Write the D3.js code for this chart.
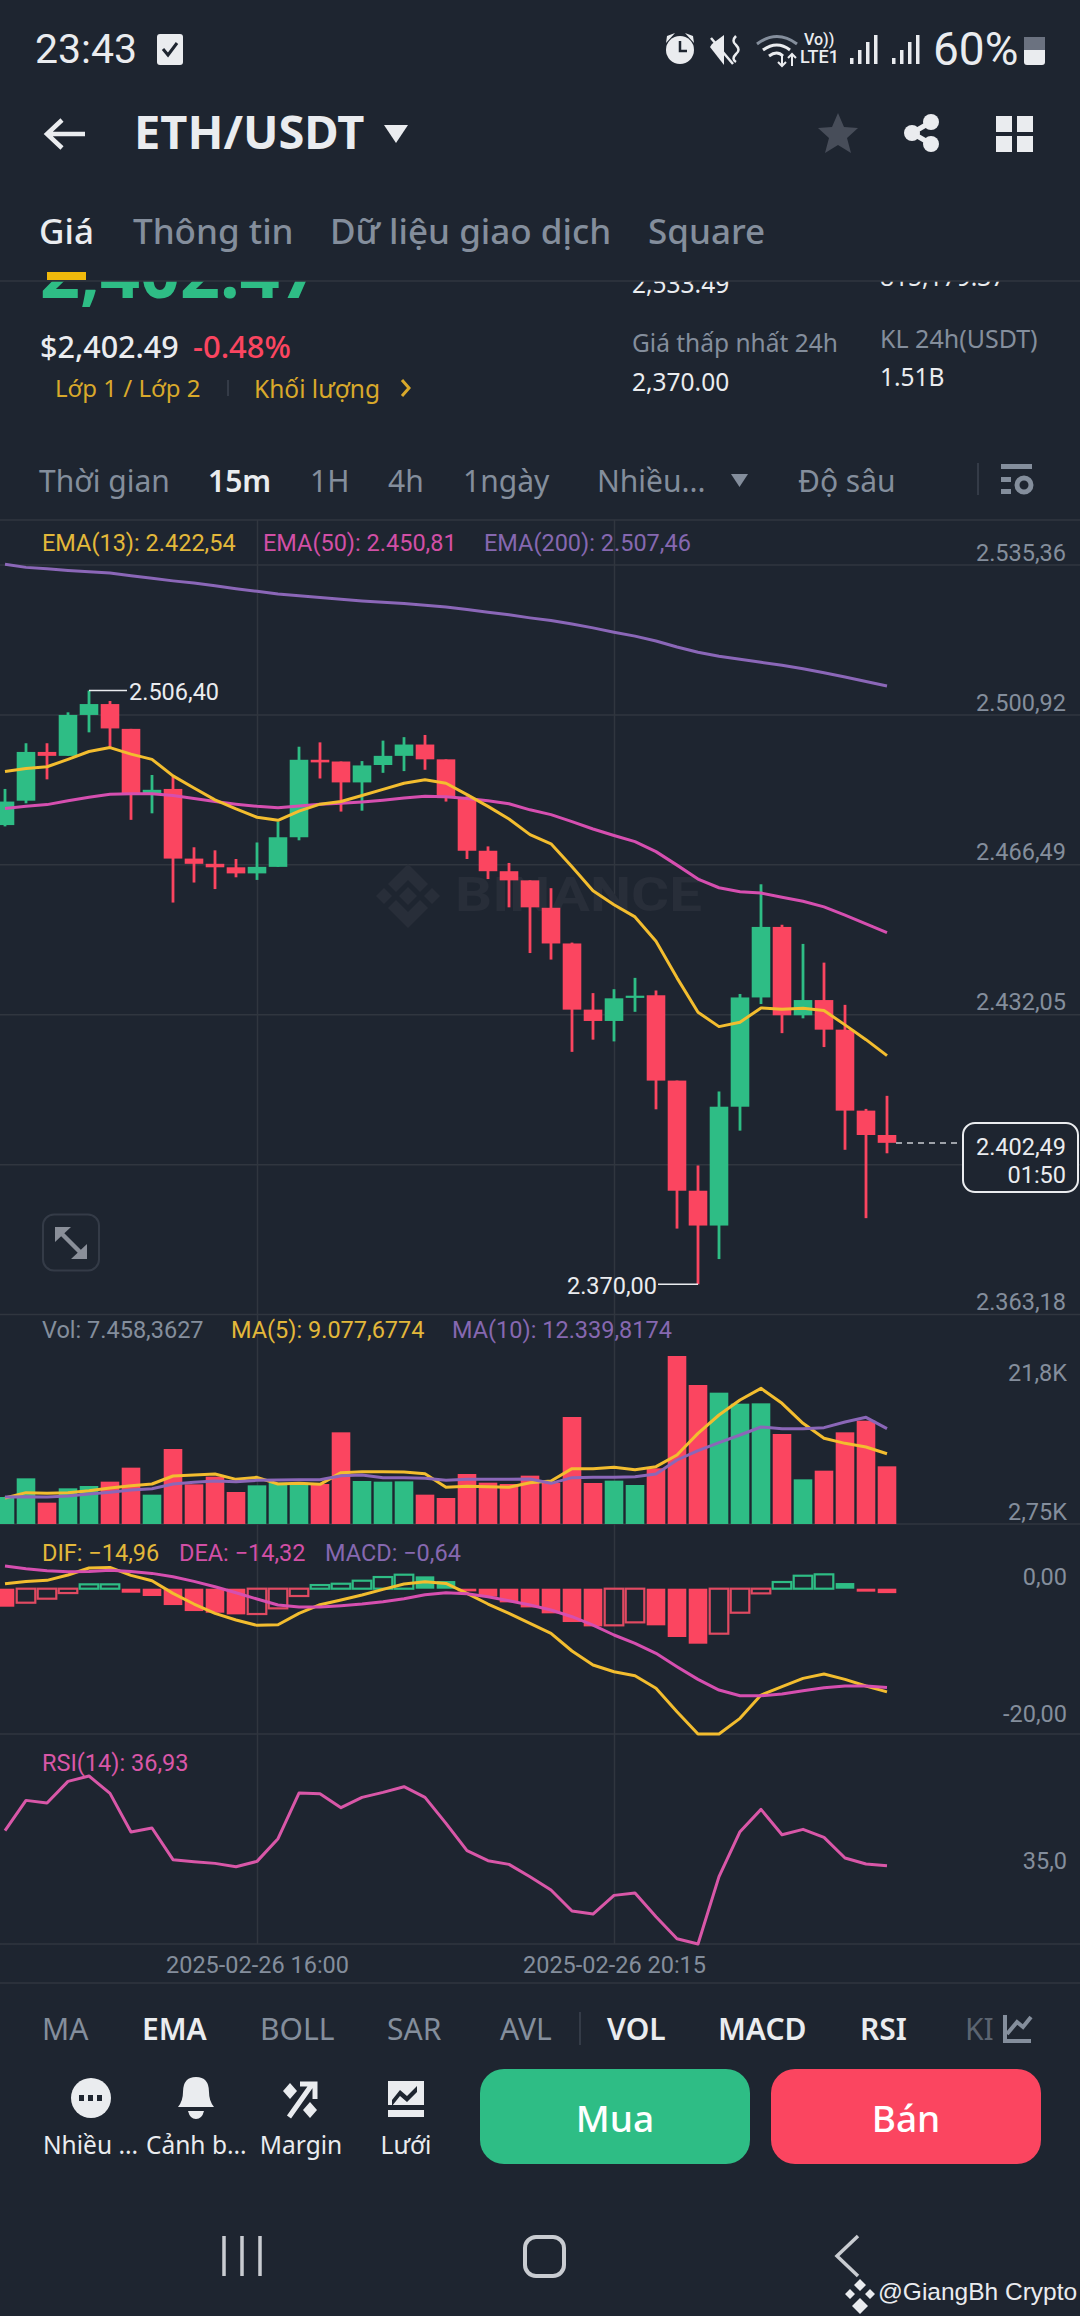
<!DOCTYPE html>
<html>
<head>
<meta charset="utf-8">
<script src="https://cdn.jsdelivr.net/npm/d3@7"></script>
<style>
  html, body { margin: 0; padding: 0; background: #1e2530; }
  svg { display: block; }
  text { font-family: "Noto Sans", sans-serif; dominant-baseline: middle; }
  .num text, text.num { font-family: Roboto, sans-serif; }
</style>
</head>
<body>
<div id="chart"></div>
<script>
// candles
var opens = [2475.5,2481.1,2492.3,2491.4,2500.8,2503.3,2497.6,2482.7,2483.8,2467.8,2466.6,2465.8,2464.4,2465.9,2472.7,2490.5,2490.1,2485.3,2489.3,2491.4,2494.0,2490.6,2481.7,2469.6,2464.9,2462.8,2456.5,2448.3,2433.1,2430.5,2435.8,2436.4,2416.8,2391.5,2383.5,2410.8,2435.9,2452.1,2431.8,2435.3,2428.5,2409.9,2404.3]
var closes = [2480.9,2492.3,2491.4,2500.8,2503.3,2497.7,2482.8,2483.6,2467.8,2466.6,2465.8,2464.4,2465.9,2472.7,2490.5,2489.9,2485.3,2489.2,2491.4,2494.0,2490.6,2481.7,2469.6,2464.9,2462.8,2456.6,2448.3,2433.1,2430.5,2435.7,2436.3,2416.8,2391.5,2383.5,2410.8,2435.9,2452.1,2431.8,2435.3,2428.5,2409.9,2404.3,2402.5]
var highs = [2483.8,2494.3,2494.3,2501.4,2506.4,2504.0,2497.6,2487.0,2486.7,2470.4,2469.7,2467.7,2471.5,2476.3,2493.5,2494.5,2490.1,2490.2,2494.9,2495.7,2496.2,2490.6,2482.1,2470.6,2466.8,2462.8,2461.0,2448.5,2436.9,2437.8,2440.4,2437.5,2416.8,2397.3,2414.3,2436.7,2461.9,2452.6,2448.2,2443.9,2434.2,2410.3,2413.3]
var lows = [2475.2,2480.5,2486.0,2491.4,2496.8,2493.3,2476.7,2478.2,2457.7,2462.3,2460.8,2463.5,2462.9,2465.9,2472.0,2486.2,2478.6,2478.8,2487.5,2487.9,2488.2,2480.9,2467.7,2463.1,2456.6,2446.1,2444.6,2423.4,2426.2,2425.8,2432.6,2410.2,2382.8,2370.0,2375.8,2405.3,2434.4,2427.7,2431.1,2424.5,2400.9,2385.2,2400.1]

var ema13 = [2487.8,2488.5,2488.9,2490.6,2492.4,2493.3,2491.8,2490.6,2486.8,2484.0,2481.3,2479.2,2477.3,2476.6,2478.7,2480.3,2480.9,2482.3,2483.7,2485.1,2485.9,2485.1,2482.5,2479.8,2476.9,2473.3,2471.2,2465.9,2460.4,2457.2,2454.4,2448.8,2440.4,2432.5,2429.2,2430.2,2433.5,2433.2,2433.4,2432.9,2429.6,2426.2,2422.54]
var ema50 = [2479.3,2479.8,2480.2,2481.1,2481.9,2482.6,2482.7,2482.7,2482.3,2481.6,2480.9,2480.3,2479.8,2479.5,2479.9,2480.3,2480.5,2480.8,2481.2,2481.7,2482.1,2482.0,2481.6,2481.1,2480.4,2479.0,2477.9,2476.3,2474.6,2473.1,2471.7,2469.4,2466.3,2463.1,2461.1,2460.2,2459.9,2458.9,2458.0,2456.7,2454.8,2452.8,2450.81]
var ema200 = [2535.4,2534.7,2534.4,2534.0,2533.7,2533.4,2532.8,2532.2,2531.6,2531.1,2530.5,2529.8,2529.2,2528.6,2528.2,2527.8,2527.4,2527.0,2526.7,2526.4,2526.0,2525.6,2525.0,2524.4,2523.8,2523.1,2522.5,2521.7,2520.8,2519.8,2518.9,2517.8,2516.4,2515.2,2514.3,2513.6,2512.9,2512.2,2511.4,2510.5,2509.5,2508.5,2507.46]

var volumes = [3490,5905,2758,4612,4913,5474,7284,3793,9698,5129,6120,4138,5000,5344,5344,5172,11853,5560,5474,5517,3793,3362,6465,5344,5172,6250,5301,13835,5301,5603,5043,7198,21722,17973,16981,15559,15602,11637,5775,6896,11853,13361,7458]
var volMa5 = [3362,4051,3965,4051,4310,4655,4957,5172,6206,6336,6465,5775,6034,5172,5258,5129,6637,6767,6767,6724,6508,4741,4870,4827,4741,5344,5560,7155,7155,7327,7025,7413,8922,11723,14094,16033,17542,15602,13016,11077,10430,9956,9078]
var volMa10 = [3491,3534,3491,3620,3879,4095,4396,4569,5172,5388,5560,5474,5646,5689,5732,5732,6250,6336,5991,5991,5905,5646,5775,5775,5775,5819,5258,5991,6034,6034,6120,6465,8275,9482,10516,11508,12542,12327,12327,12456,13189,13792,12340]

var macdHist = [-2.61,-2.03,-1.45,-0.63,0.63,0.63,-0.58,-1.06,-2.37,-3.24,-3.48,-3.72,-3.67,-2.85,-1.06,0.53,0.72,1.16,1.69,2.03,1.79,1.11,-0.39,-1.16,-1.98,-2.71,-3.57,-4.83,-5.46,-5.31,-4.88,-5.31,-7.0,-7.97,-6.52,-3.48,-0.68,0.97,1.88,2.08,0.82,-0.43,-0.64]
var dif = [0.72,1.06,1.21,1.98,3.0,3.09,1.93,1.16,-0.68,-2.22,-3.57,-4.54,-5.31,-5.22,-3.57,-2.32,-1.64,-0.92,-0.1,0.68,1.01,0.77,-0.68,-2.22,-3.57,-5.02,-6.47,-9.03,-11.06,-12.03,-12.61,-14.44,-17.83,-21.06,-21.06,-18.79,-15.41,-14.2,-13.0,-12.37,-13.14,-14.11,-14.96]
var dea = [3.29,2.9,2.61,2.46,2.51,2.66,2.51,2.22,1.74,1.06,0.29,-0.58,-1.5,-2.37,-2.66,-2.66,-2.46,-2.22,-1.88,-1.45,-0.87,-0.58,-0.72,-1.16,-1.74,-2.37,-3.09,-4.06,-5.27,-6.71,-7.92,-9.37,-11.3,-13.14,-14.69,-15.51,-15.51,-15.27,-14.78,-14.35,-14.11,-14.11,-14.32]

var rsi = [46.14,54.12,53.42,59.12,60.53,55.97,45.79,46.84,38.51,37.98,37.54,36.67,38.07,44.04,56.05,55.88,52.19,54.91,56.23,57.72,54.91,48.07,40.88,38.25,37.28,34.04,30.53,25.0,24.21,29.12,29.74,23.51,17.72,16.32,34.04,45.88,51.75,45.09,46.49,44.39,38.95,37.37,36.93]

var priceTicks = [2535.36,2500.92,2466.49,2432.05,2397.61,2363.18]
var hiddenTick = 2397.61 // sits behind the last price tag
var timeTickIdx = [12,29]
var timeLabels = ["2025-02-26 16:00","2025-02-26 20:15"]
var lastPrice = 2402.49

var W = 1080, H = 2316
var bg = "#1e2530", grid = "#30363f", grey = "#848e9c"
var green = "#2ebd85", red = "#fb4560"
var yellow = "#f3bd2f", magenta = "#d64fb0", purple = "#8b67b8"
var candleW = 18.6

var vi = d3.formatLocale({decimal: ",", thousands: ".", grouping: [3], currency: ["", ""]})
var fmt2 = vi.format(",.2f")

var svg = d3.select("#chart").append("svg")
  .attr("width", W)
  .attr("height", H)
  .attr("viewBox", "0 0 " + W + " " + H)

var x = d3.scaleLinear().domain([0, 42]).range([5, 887])
var y = d3.scaleLinear().domain([2363.18, 2535.36]).range([1314, 564.5])
var yVol = d3.scaleLinear().domain([0, 21800]).range([1524, 1355.4])
var yMacd = d3.scaleLinear().domain([0, -21.06]).range([1588.7, 1734])
var yRsi = d3.scaleLinear().domain([16.4, 60.8]).range([1943.7, 1775])

function hline(py, x1, x2, col) {
  svg.append("line").attr("x1", x1).attr("x2", x2).attr("y1", py).attr("y2", py)
    .attr("stroke", col || grid).attr("stroke-width", 1.5)
}
// text sits about 2px low compared with middle baseline
function label(px, py, txt, col, size, opts) {
  opts = opts || {}
  return svg.append("text")
    .attr("class", opts.num ? "num" : null)
    .attr("x", px).attr("y", py + 2)
    .attr("fill", col).attr("font-size", size)
    .attr("font-weight", opts.w || 400)
    .attr("text-anchor", opts.a || "start")
    .text(txt)
}

// ---- panes: grid first
hline(520, 0, W)
hline(1524, 0, W)
hline(1734, 0, W)
hline(1944, 0, W)
hline(1983, 0, W)

var timeAxis = d3.axisBottom(x)
  .tickValues(timeTickIdx)
  .tickSize(-(1944 - 520))
  .tickFormat(function(d, i) { return timeLabels[i] })
var gt = svg.append("g").attr("class", "num").attr("transform", "translate(0,1944)").call(timeAxis)
gt.select(".domain").remove()
gt.selectAll("line").attr("stroke", grid).attr("stroke-width", 1.5)
gt.selectAll("text").attr("y", 23).attr("dy", 0).attr("fill", grey).attr("font-size", 23.5)

var priceAxis = d3.axisRight(y)
  .tickValues(priceTicks)
  .tickSize(-W)
  .tickFormat(function(d) { return d == hiddenTick ? "" : fmt2(d) })
var gp = svg.append("g").attr("class", "num").attr("transform", "translate(" + W + ",0)").call(priceAxis)
gp.select(".domain").remove()
gp.selectAll("line").attr("stroke", grid).attr("stroke-width", 1.5)
gp.selectAll("text").attr("x", -14).attr("dy", -10.5).attr("text-anchor", "end")
  .attr("fill", grey).attr("font-size", 23.5)

// faint watermark
var wm = svg.append("g").attr("fill", "#282e39")
wm.append("path").attr("d", "M408 864 l20 20 -8 8 -12 -12 -12 12 -8 -8z M408 928 l-20 -20 8 -8 12 12 12 -12 8 8z M376 896 l8 -8 8 8 -8 8z M440 896 l-8 -8 -8 8 8 8z M408 887 l9 9 -9 9 -9 -9z")
wm.append("text").attr("x", 455).attr("y", 898).attr("font-size", 48).attr("font-weight", 700)
  .style("font-family", "Roboto").attr("textLength", 247).attr("lengthAdjust", "spacingAndGlyphs").text("BINANCE")

// ---- candles
var idx = d3.range(opens.length)
function candleCol(i) { return closes[i] >= opens[i] ? green : red }

svg.append("g").selectAll("line").data(idx).join("line")
  .attr("x1", function(i) { return x(i) })
  .attr("x2", function(i) { return x(i) })
  .attr("y1", function(i) { return y(highs[i]) })
  .attr("y2", function(i) { return y(lows[i]) })
  .attr("stroke", candleCol)
  .attr("stroke-width", 2.8)

svg.append("g").selectAll("rect").data(idx).join("rect")
  .attr("x", function(i) { return x(i) - candleW / 2 })
  .attr("width", candleW)
  .attr("y", function(i) { return y(Math.max(opens[i], closes[i])) })
  .attr("height", function(i) { return Math.abs(y(opens[i]) - y(closes[i])) })
  .attr("fill", candleCol)

function drawLine(values, sy, col, sw) {
  var ln = d3.line().x(function(d, i) { return x(i) }).y(function(d) { return sy(d) })
  svg.append("path").attr("d", ln(values)).attr("fill", "none")
    .attr("stroke", col).attr("stroke-width", sw || 3).attr("stroke-linejoin", "round")
}
drawLine(ema200, y, purple)
drawLine(ema50, y, magenta)
drawLine(ema13, y, yellow)

// ---- high / low markers
var hiIdx = d3.maxIndex(highs), loIdx = d3.minIndex(lows)
svg.append("path").attr("fill", "none").attr("stroke", "#eaecef").attr("stroke-width", 1.5)
  .attr("d", "M" + x(hiIdx) + " " + y(highs[hiIdx]) + "H" + (x(hiIdx) + 38))
svg.append("path").attr("fill", "none").attr("stroke", "#eaecef").attr("stroke-width", 1.5)
  .attr("d", "M" + x(loIdx) + " " + y(lows[loIdx]) + "H" + (x(loIdx) - 40))
label(x(hiIdx) + 40, y(highs[hiIdx]) + 1, fmt2(highs[hiIdx]), "#eaecef", 23.5, {num: true})
label(x(loIdx) - 41, y(lows[loIdx]) + 1, fmt2(lows[loIdx]), "#eaecef", 23.5, {num: true, a: "end"})

// ---- last price tag
svg.append("line").attr("x1", x(42) + 9).attr("x2", 963)
  .attr("y1", y(lastPrice)).attr("y2", y(lastPrice))
  .attr("stroke", "#c9ccd1").attr("stroke-width", 1.5).attr("stroke-dasharray", "6 5")
svg.append("rect").attr("x", 963).attr("y", 1123).attr("width", 115).attr("height", 69)
  .attr("rx", 12).attr("fill", bg).attr("stroke", "#eaecef").attr("stroke-width", 2)
label(1066, 1147, fmt2(lastPrice), "#eaecef", 23.5, {num: true, a: "end"})
label(1066, 1175, "01:50", "#eaecef", 23.5, {num: true, a: "end"})

// ---- expand button
svg.append("rect").attr("x", 43).attr("y", 1214.5).attr("width", 56).attr("height", 56).attr("rx", 11)
  .attr("fill", "none").attr("stroke", "#343b47").attr("stroke-width", 2)
svg.append("path").attr("fill", "#8a8f99")
  .attr("d", "M55 1227h16l-16 15z M87 1259h-16l16-15z")
svg.append("path").attr("fill", "none").attr("stroke", "#8a8f99").attr("stroke-width", 4.5).attr("d", "M62 1234l18 18")

// ---- volume
svg.append("g").selectAll("rect").data(volumes).join("rect")
  .attr("x", function(d, i) { return x(i) - candleW / 2 })
  .attr("width", candleW)
  .attr("y", function(d) { return yVol(d) })
  .attr("height", function(d) { return yVol(0) - yVol(d) })
  .attr("fill", function(d, i) { return candleCol(i) })
drawLine(volMa5, yVol, yellow)
drawLine(volMa10, yVol, purple)

// ---- macd histogram, hollow while the bar rises
svg.append("g").selectAll("rect").data(macdHist).join("rect")
  .attr("x", function(d, i) { return x(i) - candleW / 2 })
  .attr("width", candleW)
  .attr("y", function(d) { return Math.min(yMacd(0), yMacd(d)) })
  .attr("height", function(d) { return Math.abs(yMacd(d) - yMacd(0)) })
  .attr("fill", function(d, i) {
    if (i > 0 && d >= macdHist[i - 1]) return "none"
    return d < 0 ? red : green
  })
  .attr("stroke", function(d, i) {
    if (i > 0 && d >= macdHist[i - 1]) return d < 0 ? "#e04a62" : green
    return "none"
  })
  .attr("stroke-width", 2.2)
drawLine(dif, yMacd, yellow)
drawLine(dea, yMacd, magenta)

// ---- rsi
drawLine(rsi, yRsi, "#d957a8")

// ---- legends
label(42, 543, "EMA(13): " + fmt2(ema13[42]), "#e3b83a", 23.5, {num: true})
label(263, 543, "EMA(50): " + fmt2(ema50[42]), "#d24fa6", 23.5, {num: true})
label(484, 543, "EMA(200): " + fmt2(ema200[42]), "#8668b0", 23.5, {num: true})
label(42, 1330, "Vol: 7.458,3627", grey, 23.5, {num: true})
label(231, 1330, "MA(5): 9.077,6774", "#e3b83a", 23.5, {num: true})
label(452, 1330, "MA(10): 12.339,8174", "#8668b0", 23.5, {num: true})
label(42, 1553, "DIF: " + fmt2(dif[42]), "#e3b83a", 23.5, {num: true})
label(179, 1553, "DEA: " + fmt2(dea[42]), "#d24fa6", 23.5, {num: true})
label(325, 1553, "MACD: " + fmt2(macdHist[42]), "#8668b0", 23.5, {num: true})
label(42, 1763, "RSI(14): " + fmt2(rsi[42]), "#d957a8", 23.5, {num: true})

label(1067, 1373, "21,8K", grey, 23.5, {num: true, a: "end"})
label(1067, 1512, "2,75K", grey, 23.5, {num: true, a: "end"})
label(1067, 1577, "0,00", grey, 23.5, {num: true, a: "end"})
label(1067, 1714, "-20,00", grey, 23.5, {num: true, a: "end"})
label(1067, 1861, "35,0", grey, 23.5, {num: true, a: "end"})

// ---- app chrome, status bar
label(35, 50, "23:43", "#eaecef", 41, {num: true})
svg.append("rect").attr("x", 157).attr("y", 34).attr("width", 26).attr("height", 31).attr("rx", 3).attr("fill", "#eaecef")
svg.append("path").attr("d", "M163 49l5 6 9-12").attr("fill", "none").attr("stroke", bg).attr("stroke-width", 3)
svg.append("circle").attr("cx", 680).attr("cy", 50).attr("r", 14).attr("fill", "#eaecef")
svg.append("path").attr("d", "M680 41v10h7").attr("fill", "none").attr("stroke", bg).attr("stroke-width", 2.5)
svg.append("path").attr("fill", "#eaecef").attr("d", "M667 36l8-3-9 10z M693 36l-8-3 9 10z")
svg.append("path").attr("fill", "#eaecef").attr("d", "M712 44l12-9v30l-14-18z")
svg.append("path").attr("fill", "none").attr("stroke", "#eaecef").attr("stroke-width", 2.5)
  .attr("d", "M711 38l22 26 M736 36q-5 5 0 9q5 5 0 9q-5 5 0 8")
svg.append("path").attr("fill", "none").attr("stroke", "#848e9c").attr("stroke-width", 3).attr("d", "M757 44q20-15 40 0")
svg.append("path").attr("fill", "none").attr("stroke", "#eaecef").attr("stroke-width", 3).attr("d", "M763 50q14-10 27 0 M769 56q8-6 14 0")
svg.append("path").attr("fill", "none").attr("stroke", "#eaecef").attr("stroke-width", 2).attr("d", "M782 54v12 M778 62l4 4 4-4 M792 66v-12 M788 58l4-4 4 4")
label(804, 39, "Vo))", "#eaecef", 16, {num: true, w: 500})
label(800, 56, "LTE1", "#eaecef", 18, {num: true, w: 500})
svg.selectAll("rect.sig").data([850, 858, 866, 874, 892, 900, 908, 916]).join("rect").attr("class", "sig")
  .attr("x", function(d) { return d })
  .attr("width", 3.5)
  .attr("y", function(d, i) { return [58, 50, 42, 35][i % 4] + 0 })
  .attr("height", function(d, i) { return 64 - [58, 50, 42, 35][i % 4] })
  .attr("fill", "#eaecef")
label(933, 51, "60%", "#eaecef", 46, {num: true})
svg.append("rect").attr("x", 1024).attr("y", 37).attr("width", 21).attr("height", 28).attr("rx", 3).attr("fill", "#eaecef")
svg.append("rect").attr("x", 1024).attr("y", 37).attr("width", 21).attr("height", 13).attr("fill", "#6b7280")

// header
svg.append("path").attr("fill", "none").attr("stroke", "#eaecef").attr("stroke-width", 4.5)
  .attr("d", "M85 134H48 M62 120l-15 14 15 14")
label(134, 134, "ETH/USDT", "#eaecef", 47, {w: 700})
svg.append("path").attr("fill", "#eaecef").attr("d", "M384 125h24l-12 18z")
svg.append("path").attr("fill", "#474d59").attr("d", "M838 113l6 14 14 1-11 10 4 15-13-8-13 8 4-15-11-10 14-1z")
svg.append("path").attr("fill", "none").attr("stroke", "#eaecef").attr("stroke-width", 5).attr("d", "M931 122L912 133L931 144")
svg.selectAll("circle.sh").data([[931, 122], [912, 133], [931, 144]]).join("circle").attr("class", "sh")
  .attr("cx", function(d) { return d[0] }).attr("cy", function(d) { return d[1] }).attr("r", 8).attr("fill", "#eaecef")
svg.append("path").attr("fill", "#eaecef").attr("d", "M996 116h16v16h-16z M1017 116h16v16h-16z M996 136h16v16h-16z M1017 136h16v16h-16z")

// tabs
label(39, 233, "Giá", "#eaecef", 35, {w: 500})
label(133, 233, "Thông tin", grey, 35, {w: 500})
label(330, 233, "Dữ liệu giao dịch", grey, 35, {w: 500})
label(648, 233, "Square", grey, 35, {w: 500})

// clipped ticker block under the tabs
svg.append("clipPath").attr("id", "tick").append("rect").attr("x", 0).attr("y", 281).attr("width", W).attr("height", 60)
var tk = svg.append("g").attr("clip-path", "url(#tick)")
tk.append("text").attr("x", 40).attr("y", 279).attr("fill", green).attr("font-size", 70).attr("font-weight", 700).text("2,402.47")
tk.append("text").attr("x", 632).attr("y", 286).attr("fill", "#eaecef").attr("font-size", 24.5).text("2,533.49")
tk.append("text").attr("x", 880).attr("y", 279).attr("fill", "#eaecef").attr("font-size", 24.5).text("815,179.37")
svg.append("rect").attr("x", 47).attr("y", 272).attr("width", 39).attr("height", 8).attr("fill", "#f0b90b")
hline(281, 0, W)

label(40, 348, "$2,402.49", "#eaecef", 30.5, {w: 500})
label(193, 348, "-0.48%", red, 31, {w: 500})
label(55, 389, "Lớp 1 / Lớp 2", "#d9a92b", 24)
svg.append("line").attr("x1", 228).attr("x2", 228).attr("y1", 380).attr("y2", 396).attr("stroke", "#343b47").attr("stroke-width", 2)
label(254, 389, "Khối lượng", "#d9a92b", 24.5)
svg.append("path").attr("fill", "none").attr("stroke", "#d9a92b").attr("stroke-width", 3).attr("d", "M402 380l7 8-7 8")
label(632, 343, "Giá thấp nhất 24h", grey, 24.5)
label(880, 339, "KL 24h(USDT)", grey, 25)
label(632, 382, "2,370.00", "#eaecef", 24.5)
label(880, 377, "1.51B", "#eaecef", 24.5)

// interval row
label(39, 482, "Thời gian", grey, 30)
label(208, 482, "15m", "#eaecef", 30, {w: 600})
label(310, 482, "1H", grey, 30)
label(388, 482, "4h", grey, 30)
label(463, 482, "1ngày", grey, 30)
label(597, 482, "Nhiều...", grey, 30)
svg.append("path").attr("fill", grey).attr("d", "M731 474h17l-8.5 13z")
label(798, 482, "Độ sâu", grey, 30)
svg.append("line").attr("x1", 978).attr("x2", 978).attr("y1", 463).attr("y2", 495).attr("stroke", "#343b47").attr("stroke-width", 2)
svg.append("path").attr("fill", "#848e9c").attr("d", "M1001 464h31v5h-31z M1001 477h10v5h-10z M1001 489h10v5h-10z")
svg.append("circle").attr("cx", 1024).attr("cy", 485).attr("r", 7).attr("fill", "none").attr("stroke", "#848e9c").attr("stroke-width", 5)

// indicator row
var indNames = ["MA", "EMA", "BOLL", "SAR", "AVL", "VOL", "MACD", "RSI", "KI"]
var indX = [42, 142, 260, 387, 500, 607, 718, 860, 965]
var indOn = [0, 1, 0, 0, 0, 1, 1, 1, 0]
svg.append("g").selectAll("text").data(indNames).join("text")
  .attr("x", function(d, i) { return indX[i] })
  .attr("y", 2032)
  .attr("font-size", 30)
  .attr("font-weight", function(d, i) { return indOn[i] ? 600 : 400 })
  .attr("fill", function(d, i) { return indOn[i] ? "#eaecef" : grey })
  .attr("opacity", function(d, i) { return i == 8 ? 0.6 : 1 })
  .text(function(d) { return d })
svg.append("line").attr("x1", 580).attr("x2", 580).attr("y1", 2012).attr("y2", 2045).attr("stroke", "#343b47").attr("stroke-width", 2)
svg.append("path").attr("fill", "none").attr("stroke", "#848e9c").attr("stroke-width", 4).attr("d", "M1005 2015v26h26 M1007 2034l10-12 6 5 8-10")

// bottom actions
svg.append("circle").attr("cx", 91).attr("cy", 2098).attr("r", 20).attr("fill", "#eaecef")
svg.append("path").attr("fill", bg).attr("d", "M79 2095h5v6h-5z M88 2095h5v6h-5z M97 2095h5v6h-5z")
svg.append("path").attr("fill", "#eaecef").attr("d", "M178 2107q5-6 5-15q0-15 13-15q13 0 13 15q0 9 5 15z M188 2111h16q-2 8-8 8q-6 0-8-8z")
svg.append("path").attr("fill", "none").attr("stroke", "#eaecef").attr("stroke-width", 5)
  .attr("d", "M289 2117l24-34 M300 2084h15v15")
svg.append("path").attr("fill", "#eaecef").attr("d", "M290 2083l7 8-7 8-7-8z M310 2102l7 8-7 8-7-8z")
svg.append("path").attr("fill", "#eaecef").attr("d", "M388 2081h36v24h-36z M388 2110h36v7h-36z")
svg.append("path").attr("fill", bg).attr("d", "M392 2100l8-10 7 6 10-10v6l-10 10-7-6-8 10z")
label(43, 2145, "Nhiều ...", "#eaecef", 24.5)
label(146, 2145, "Cảnh b...", "#eaecef", 24.5)
label(301, 2145, "Margin", "#eaecef", 24.5, {a: "middle"})
label(406, 2145, "Lưới", "#eaecef", 24.5, {a: "middle"})
svg.append("rect").attr("x", 480).attr("y", 2069).attr("width", 270).attr("height", 95).attr("rx", 24).attr("fill", green)
svg.append("rect").attr("x", 771).attr("y", 2069).attr("width", 270).attr("height", 95).attr("rx", 24).attr("fill", red)
label(615, 2120, "Mua", "#fff", 37, {w: 500, a: "middle"})
label(906, 2120, "Bán", "#fff", 37, {w: 500, a: "middle"})

// android nav
svg.append("path").attr("fill", "none").attr("stroke", "#c9ccd1").attr("stroke-width", 3.5)
  .attr("d", "M224 2236v40 M242 2236v40 M260 2236v40 M858 2236l-21 20 21 20")
svg.append("rect").attr("x", 525).attr("y", 2237).attr("width", 39).attr("height", 39).attr("rx", 11)
  .attr("fill", "none").attr("stroke", "#c9ccd1").attr("stroke-width", 4)

// author stamp
svg.append("path").attr("fill", "#eaecef").attr("d", "M860 2279l6 6-6 6-6-6z M850 2289l5 5-5 5-5-5z M870 2289l5 5-5 5-5-5z M860 2298l8 8-8 8-8-8z")
label(878, 2292, "@GiangBh Crypto", "#eaecef", 24.5).style("font-family", "Liberation Sans")
</script>
</body>
</html>
